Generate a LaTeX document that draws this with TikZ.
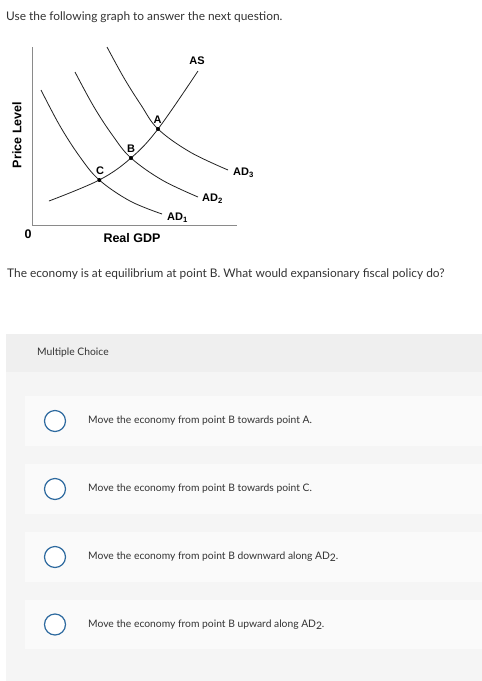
\documentclass[tikz,border=0pt]{standalone}
\usepackage{fontspec}
\setmainfont{Lato}
\newfontfamily\graphfont{Liberation Sans}
\definecolor{txt}{HTML}{333333}
\definecolor{panelbg}{HTML}{F5F5F5}
\definecolor{headbg}{HTML}{EFEFEF}
\definecolor{cardbg}{HTML}{FAFAFA}
\definecolor{radio}{HTML}{2E6A9F}
\definecolor{curve}{HTML}{222222}
\definecolor{axisc}{HTML}{8A8A8A}
\tikzset{
  qtext/.style={anchor=west, inner sep=0pt, text=txt, font=\fontsize{11.9}{13}\selectfont},
  opttext/.style={anchor=west, inner sep=0pt, text=txt, font=\fontsize{10.3}{12}\selectfont},
  glabel/.style={inner sep=0pt, font=\graphfont\bfseries\fontsize{12.5}{13}\selectfont},
  plabel/.style={inner sep=0pt, font=\graphfont\bfseries\fontsize{11}{12}\selectfont},
  curveline/.style={draw=curve, line width=0.8pt},
  eqdot/.style={circle, fill=black, inner sep=0pt, minimum size=4pt},
  radiobtn/.style={circle, draw=radio, line width=1.2pt, minimum size=21pt, inner sep=0pt, fill=white},
  card/.style={fill=cardbg}
}
\begin{document}
\begin{tikzpicture}[x=1pt,y=-1pt]
\useasboundingbox (0,0) rectangle (482,681);
\fill[white] (0,0) rectangle (482,681);

% header text
\node[qtext] (intro) at (6,17) {Use the following graph to answer the next question.};

% axes
\draw[axisc, line width=1pt] (32.3,47) -- (32.3,225.7) -- (237,225.7);
\node[glabel] (zero) at (28,234) {0};
\node[glabel, rotate=90] (ylab) at (17,135) {Price Level};
\node[glabel] (xlab) at (132,238) {Real GDP};

% curves
\draw[curveline] plot[smooth, tension=0.6] coordinates {(41,90) (60,126) (80,157) (99.3,180) (130,201) (162,214)};
\draw[curveline] plot[smooth, tension=0.6] coordinates {(75,72) (94,107) (113,136) (131,158) (162,180) (198,197)};
\draw[curveline] plot[smooth, tension=0.6] coordinates {(107,47) (124,78) (141,105) (158,129) (190,152) (228,170)};
\draw[curveline] plot[smooth, tension=0.6] coordinates {(49,201) (99.3,180) (131,158) (158,129) (198,71)};

\node[eqdot] (C) at (99.3,180) {};
\node[eqdot] (B) at (131,158) {};
\node[eqdot] (A) at (158,129) {};
\node[plabel] (Clab) at (100,171) {C};
\node[plabel] (Blab) at (131,148.5) {B};
\node[plabel] (Alab) at (157.5,119.5) {A};
\node[plabel] (ASlab) at (197,61) {AS};
\node[plabel, anchor=west] (AD1lab) at (167,218) {AD\textsubscript{1}};
\node[plabel, anchor=west] (AD2lab) at (202,199) {AD\textsubscript{2}};
\node[plabel, anchor=west] (AD3lab) at (233,173) {AD\textsubscript{3}};

% question
\node[qtext] (question) at (7,274) {The economy is at equilibrium at point B. What would expansionary fiscal policy do?};

% choice panel
\fill[panelbg] (6,334) rectangle (482,681);
\fill[headbg] (6,334) rectangle (482,372);
\node[opttext] (mc) at (37,353) {Multiple Choice};

\fill[card] (25,396) rectangle (482,446);
\fill[card] (25,464) rectangle (482,514);
\fill[card] (25,532) rectangle (482,582);
\fill[card] (25,600) rectangle (482,649);

\node[radiobtn] (r1) at (55,421) {};
\node[radiobtn] (r2) at (55,489) {};
\node[radiobtn] (r3) at (55,557) {};
\node[radiobtn] (r4) at (55,624.5) {};

\node[opttext] (o1) at (88,421) {Move the economy from point B towards point A.};
\node[opttext] (o2) at (88,489) {Move the economy from point B towards point C.};
\node[opttext] (o3) at (88,557) {Move the economy from point B downward along AD\raisebox{-2pt}{2}.};
\node[opttext] (o4) at (88,624.5) {Move the economy from point B upward along AD\raisebox{-2pt}{2}.};
\end{tikzpicture}
\end{document}
